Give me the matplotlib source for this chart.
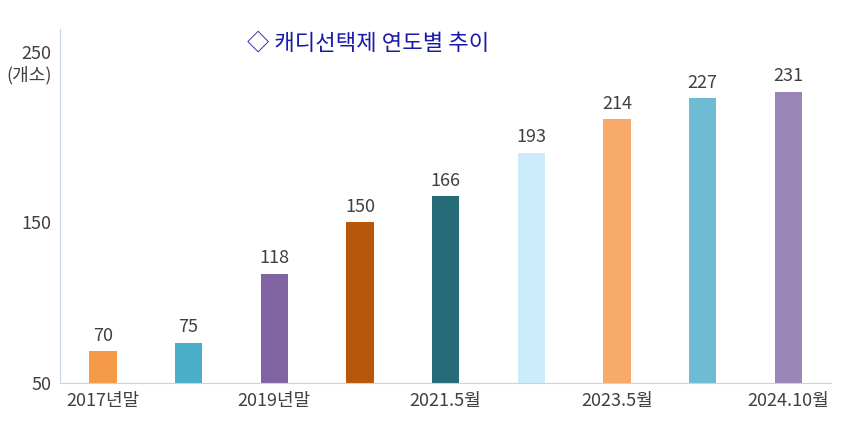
import matplotlib
matplotlib.use("Agg")
import matplotlib.pyplot as plt
from matplotlib import font_manager as fm
import glob

categories = ["2017년말", "2018년말", "2019년말", "2020년말", "2021.5월", "2022.5월", "2023.5월", "2024.5월", "2024.10월"]
values = [70, 75, 118, 150, 166, 193, 214, 227, 231]
colors = ["#F59B48", "#4BAEC8", "#8064A2", "#B85709", "#266B78", "#CCEBFB", "#F8AA6A", "#6DBCD3", "#9A87B7"]
shown_labels = {"2017년말", "2019년말", "2021.5월", "2023.5월", "2024.10월"}
yticks = [50, 150, 250]
ytick_labels = ["50", "150", "250\n(개소)"]
title = "◇ 캐디선택제 연도별 추이"

fam = "DejaVu Sans"
for f in glob.glob("/usr/share/fonts/**/*CJK*", recursive=True) + glob.glob("/usr/**/NotoSansCJK*", recursive=True):
    try:
        fm.fontManager.addfont(f)
    except Exception:
        pass
names = {f.name for f in fm.fontManager.ttflist}
for cand in ["Noto Sans CJK KR", "Noto Sans CJK JP", "Noto Sans CJK SC"]:
    if cand in names:
        fam = cand
        break
plt.rcParams["font.family"] = [fam, "DejaVu Sans"]

fig = plt.figure(figsize=(8.57, 4.32), dpi=100)
ax = fig.add_axes([0.07, 0.113, 0.9, 0.82])
x = range(len(categories))
ax.bar(x, values, width=0.32, color=colors, bottom=0)
for i, v in zip(x, values):
    ax.text(i, v + 4, str(v), ha="center", va="bottom", fontsize=13, color="#404040")
ax.set_ylim(50, 270)
ax.set_xlim(-0.5, len(categories) - 0.5)
ax.set_yticks(yticks)
ax.set_yticklabels(ytick_labels, fontsize=13, color="#404040")
ax.set_xticks(list(x))
ax.set_xticklabels([c if c in shown_labels else "" for c in categories], fontsize=13, color="#404040")
ax.tick_params(length=0, pad=6)
for s in ["top", "right"]:
    ax.spines[s].set_visible(False)
for s in ["left", "bottom"]:
    ax.spines[s].set_color("#C8D4E0")
fig.text(0.43, 0.9, title, ha="center", va="center", fontsize=16, color="#1A1AA8")
fig.savefig("out.png", dpi=100)
